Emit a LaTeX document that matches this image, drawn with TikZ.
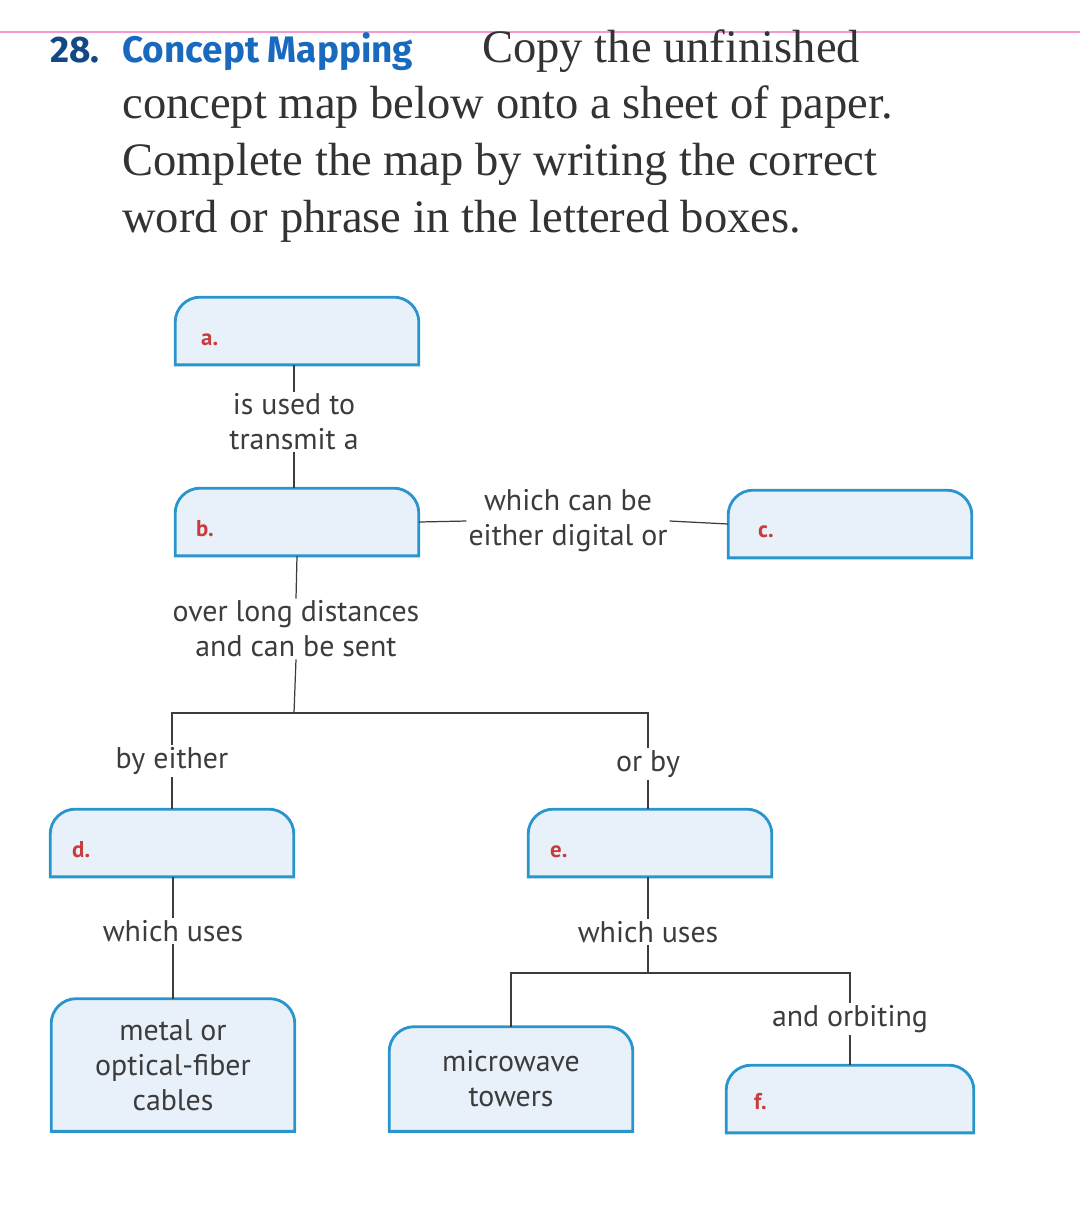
\documentclass[tikz,border=0pt]{standalone}
\usepackage{fontspec}
\setmainfont{Liberation Serif}
\setsansfont{PT Sans}
\newfontfamily\headfont{Fira Sans}
\usetikzlibrary{positioning}
\definecolor{boxblue}{RGB}{40,150,205}
\definecolor{boxfill}{RGB}{232,240,250}
\definecolor{titleblue}{RGB}{25,105,190}
\definecolor{lettred}{RGB}{200,60,60}
\definecolor{linkgray}{RGB}{60,60,60}

\begin{document}
\begin{tikzpicture}[x=0.02cm,y=-0.02cm]
\tikzstyle{cbox}=[minimum width=4.86cm,minimum height=1.34cm,inner sep=0pt,align=center,font=\sffamily\fontsize{17}{20}\selectfont,text=linkgray];
\tikzstyle{link}=[font=\sffamily\fontsize{17}{20}\selectfont,text=linkgray,align=center,inner sep=1pt];
\tikzstyle{lett}=[font=\sffamily\bfseries\fontsize{13}{14}\selectfont,text=lettred,anchor=west];
\tikzstyle{head}=[anchor=base west,inner sep=0pt,font=\fontsize{26.5}{30}\selectfont,text=black!80];
\tikzstyle{con}=[draw=linkgray,line width=0.7pt];

\useasboundingbox (0,0) rectangle (1080,1208);
\draw[magenta!40,line width=1.2pt] (0,32) -- (1080,32);

% heading
\node[head,font=\headfont\bfseries\fontsize{21}{26}\selectfont,text=titleblue!70!black] (num) at (50,62) {28.};
\node[head,font=\headfont\bfseries\fontsize{21}{26}\selectfont,text=titleblue] (title) at (122,62) {Concept Mapping};
\node[head] (h1) at (482,62) {Copy the unfinished};
\node[head] (h2) at (122,118) {concept map below onto a sheet of paper.};
\node[head] (h3) at (122,175) {Complete the map by writing the correct};
\node[head] (h4) at (122,232) {word or phrase in the lettered boxes.};

% boxes
\node[cbox] (a) at (297,331) {};
\node[cbox] (b) at (297,522) {};
\node[cbox] (c) at (850,524) {};
\node[cbox] (d) at (172,843) {};
\node[cbox] (e) at (650,843) {};
\node[cbox,minimum height=2.64cm] (cab) at (173,1065) {};
\node[cbox,minimum height=2.08cm] (mic) at (511,1079) {};
\node[cbox,minimum width=4.94cm] (f) at (850,1099) {};

\foreach \n in {a,b,c,d,e,cab,mic,f}
  \filldraw[draw=boxblue,fill=boxfill,line width=1.6pt] (\n.south west) [rounded corners=0.5cm] -- (\n.north west) -- (\n.north east) [sharp corners] -- (\n.south east) -- cycle;
\node[cbox,minimum height=0pt] (cabtx) at (cab) {metal or\\optical-fiber\\cables};
\node[cbox,minimum height=0pt] (mictx) at (mic) {microwave\\towers};

\node[lett] at (195,340) {a.};
\node[lett] at (190,529) {b.};
\node[lett] at (752,532) {c.};
\node[lett] at (66,850) {d.};
\node[lett] at (544,852) {e.};
\node[lett] at (748,1102) {f.};

% linking phrases
\node[link] (l1) at (294,422) {is used to\\transmit a};
\node[link] (l2) at (568,521) {which can be\\either digital or};
\node[link] (l3) at (296,629) {over long distances\\and can be sent};
\node[link] (l4) at (172,761) {by either};
\node[link] (l5) at (648,764) {or by};
\node[link] (l6) at (173,931) {which uses};
\node[link] (l7) at (648,932) {which uses};
\node[link] (l8) at (850,1019) {and orbiting};

\coordinate (j1) at (294,713);
\coordinate (j2) at (511,973);

\draw[con] (a.south -| l1) -- (l1.north);
\draw[con] (l1.south) -- (b.north -| l1);
\draw[con] (b.east) -- (l2.west);
\draw[con] (l2.east) -- (c.west);
\draw[con] (b.south) -- (l3.north);
\draw[con] (l3.south) -- (j1);
\draw[con] (l4.north) |- (j1) -| (l5.north);
\draw[con] (l4.south) -- (d.north -| l4);
\draw[con] (l5.south) -- (e.north -| l5);
\draw[con] (d.south -| l6) -- (l6.north);
\draw[con] (l6.south) -- (cab.north -| l6);
\draw[con] (e.south -| l7) -- (l7.north);
\draw[con] (l7.south) -- (l7 |- j2);
\draw[con] (mic.north) |- (j2) -| (l8.north);
\draw[con] (l8.south) -- (f.north -| l8);
\end{tikzpicture}
\end{document}
